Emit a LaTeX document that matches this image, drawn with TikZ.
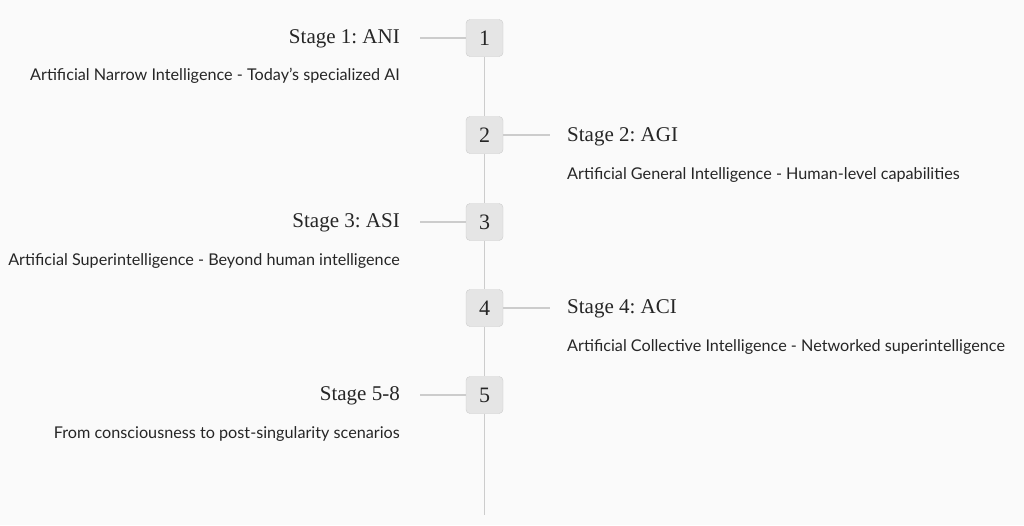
\documentclass[tikz,border=0pt]{standalone}
\usepackage{fontspec}
\setmainfont{Lato}
\newfontfamily\titlefont{Liberation Serif}
\frenchspacing
\begin{document}
\begin{tikzpicture}[x=1pt,y=-1pt,
  num/.style={draw=black!20,fill=black!10,rounded corners=4pt,minimum width=37pt,minimum height=37pt,inner sep=0pt,font=\titlefont\fontsize{22}{22}\selectfont,text=black!85},
  ttl/.style={font=\titlefont\fontsize{21}{21}\selectfont,text=black!85,inner sep=0pt},
  dsc/.style={font=\fontsize{16.2}{18}\selectfont,text=black!85,inner sep=0pt},
  ln/.style={draw=black!20,line width=1.5pt}]
\fill[black!2] (0,0) rectangle (1024,525);
\useasboundingbox (0,0) rectangle (1024,525);
\coordinate (bot) at (484.5,515);
\foreach \i/\y in {1/38,2/135,3/222,4/308,5/395} {\node[num] (n\i) at (484.5,\y) {\i};}
\draw[ln] (n1) -- (n2) (n2) -- (n3) (n3) -- (n4) (n4) -- (n5) (n5) -- (bot);
\coordinate (l1) at (420,38); \coordinate (r2) at (550,135);
\coordinate (l3) at (420,222); \coordinate (r4) at (550,308); \coordinate (l5) at (420,395);
\draw[ln] (l1) -- (n1); \draw[ln] (n2) -- (r2); \draw[ln] (l3) -- (n3); \draw[ln] (n4) -- (r4); \draw[ln] (l5) -- (n5);
\node[ttl,anchor=east] (t1) at (400,39) {Stage 1: ANI};
\node[dsc,anchor=east] (d1) at (400,76) {Artificial Narrow Intelligence - Today's specialized AI};
\node[ttl,anchor=west] (t2) at (567,137) {Stage 2: AGI};
\node[dsc,anchor=west] (d2) at (567,175) {Artificial General Intelligence - Human-level capabilities};
\node[ttl,anchor=east] (t3) at (400,223) {Stage 3: ASI};
\node[dsc,anchor=east] (d3) at (400,261) {Artificial Superintelligence - Beyond human intelligence};
\node[ttl,anchor=west] (t4) at (567,309) {Stage 4: ACI};
\node[dsc,anchor=west] (d4) at (567,347) {Artificial Collective Intelligence - Networked superintelligence};
\node[ttl,anchor=east] (t5) at (400,396) {Stage 5-8};
\node[dsc,anchor=east] (d5) at (400,434) {From consciousness to post-singularity scenarios};
\end{tikzpicture}
\end{document}
